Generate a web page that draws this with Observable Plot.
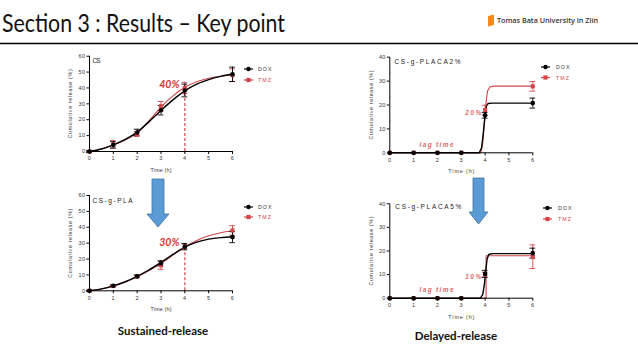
<!DOCTYPE html>
<html><head><meta charset="utf-8">
<script src="https://cdn.jsdelivr.net/npm/d3@7"></script>
<script src="https://cdn.jsdelivr.net/npm/@observablehq/plot@0.6"></script>
<style>
html,body{margin:0;padding:0;background:#fff}
body{width:638px;height:359px;position:relative;overflow:hidden;font-family:"Liberation Sans",Arial,sans-serif}
.abs{position:absolute}
.cap{position:absolute;font-family:Lato,"Open Sans",sans-serif;font-weight:700;font-size:11.5px;color:#111;white-space:nowrap;transform:translate(-50%,-50%)}
</style></head>
<body>
<svg class="abs" style="left:0;top:0" width="638" height="46">
  <text x="2" y="32" font-family="Lato, 'Open Sans', sans-serif" font-weight="400" font-size="25" fill="#111" textLength="283" lengthAdjust="spacingAndGlyphs">Section 3 : Results – Key point</text>
  <line x1="0" x2="638" y1="43.5" y2="43.5" stroke="#000" stroke-width="1.5"/>
  <path d="M488,16 L494,14.5 L494,25 L488,26.5 Z" fill="#f28a1e"/>
  <text x="497" y="22.5" font-family="'Open Sans', sans-serif" font-size="7" fill="#333" font-weight="600" textLength="101" lengthAdjust="spacingAndGlyphs">Tomas Bata University in Zlín</text>
</svg>
<svg class="abs" style="left:0;top:0;overflow:visible" width="638" height="359" id="arrows">
  <path d="M152,179 L164,179 L164,214 L169,214 L158,227 L147,214 L152,214 Z" fill="#5b9bd5" stroke="#41719c" stroke-width="0.8"/>
  <path d="M473,178 L484,178 L484,212 L488,212 L478.5,224 L469,212 L473,212 Z" fill="#5b9bd5" stroke="#41719c" stroke-width="0.8"/>
</svg>
<div class="cap" style="left:163px;top:330px">Sustained-release</div>
<div class="cap" style="left:456px;top:335px">Delayed-release</div>
<script>
// ---------- data ----------
const seriesNames = ["DOX", "TMZ"];
const xTicks = [0, 1, 2, 3, 4, 5, 6];
const yTicks60 = [0, 10, 20, 30, 40, 50, 60];
const yTicks40 = [0, 10, 20, 30, 40];
const yLabel = "Cumulative release (%)";
const xLabel = "Time (h)";
const obsT = [0, 1, 2, 3, 4, 6];

// CS
const csDox = [0, 4.2, 12, 26, 38.4, 48.6];
const csDoxErr = [0.6, 2, 2, 3, 4, 4.5];
const csTmz = [0, 4.5, 11, 28.5, 40, 48];
const csTmzErr = [0.6, 2.5, 1.5, 3, 3.5, 4];
const csFitT = [0, 0.5, 1, 1.5, 2, 2.5, 3, 3.5, 4, 4.5, 5, 5.5, 6];
const csDoxFit = [0, 1.6, 4.2, 7.6, 12.2, 18.8, 25.8, 32.5, 38.2, 42.4, 45.3, 47.3, 48.6];
const csTmzFit = [0, 1.6, 4.2, 7.3, 11.6, 19.4, 28, 35, 40.4, 43.9, 46.1, 47.4, 48.2];

// CS-g-PLA
const plaDox = [0, 3.2, 9.1, 17.3, 27.8, 33.8];
const plaDoxErr = [0.4, 0.6, 0.8, 1.6, 2, 3.5];
const plaTmz = [0, 3, 9, 16, 28, 38];
const plaTmzErr = [0.4, 0.6, 0.8, 2.5, 1.5, 3];
const plaFitT = [0, 0.5, 1, 1.5, 2, 2.5, 3, 3.5, 4, 4.5, 5, 5.5, 6];
const plaDoxFit = [0, 1.2, 3.1, 5.7, 9.1, 13.2, 17.9, 22.9, 27.5, 30.6, 32.5, 33.5, 34];
const plaTmzFit = [0, 1.1, 3, 5.5, 8.8, 12.7, 17.2, 22.5, 27.6, 31.6, 34.6, 36.6, 38];

// CS-g-PLACA2%
const ca2Dox = [0, 0, 0, 0, 15.7, 20.8];
const ca2DoxErr = [0, 0, 0, 0, 1.2, 2.1];
const ca2Tmz = [0, 0, 0, 0, 17.9, 27.8];
const ca2TmzErr = [0, 0, 0, 0, 2, 2];
const ca2DoxFitT = [0, 3.75, 3.85, 3.92, 4, 4.05, 4.12, 4.3, 6];
const ca2DoxFit = [0, 0, 2, 8, 15.8, 19.5, 20.6, 20.8, 20.8];
const ca2TmzFitT = [0, 3.82, 3.9, 3.97, 4.03, 4.1, 4.2, 4.35, 6];
const ca2TmzFit = [0, 0, 4, 13, 20.5, 25.8, 27.5, 27.9, 27.9];

// CS-g-PLACA5%
const ca5Dox = [0, 0, 0, 0, 10.3, 19.1];
const ca5DoxErr = [0, 0, 0, 0, 1.5, 2.1];
const ca5Tmz = [0, 0, 0, 0, 10, 17.6];
const ca5TmzErr = [0, 0, 0, 0, 1, 5];
const ca5DoxFitT = [0, 3.8, 3.9, 3.97, 4.03, 4.08, 4.15, 4.3, 6];
const ca5DoxFit = [0, 0, 1.5, 6, 12, 16.5, 18.5, 18.9, 18.9];
const ca5TmzFitT = [0, 4.04, 4.04, 6];
const ca5TmzFit = [0, 0, 18, 18];

// annotations
const annCS = [{t: 3.35, v: 42, label: "40%"}];
const annPLA = [{t: 3.35, v: 30.3, label: "30%"}];
const annCA2 = [{t: 3.5, v: 16.6, label: "20%"}, {t: 1.96, v: 3.2, label: "lag time"}];
const annCA5 = [{t: 3.5, v: 8.9, label: "10%"}, {t: 1.96, v: 3.7, label: "lag time"}];

// ---------- styles ----------
const RED = "#d0464b";
const RED_TXT = "#d9343a";
const RED_LIGHT = "#e06a6a";

function rows(ts, vs, es) { return ts.map((t, i) => ({t, v: vs[i], e: es ? es[i] : 0})); }

function makePanel(p) {
  const dox = rows(obsT, p.dox, p.doxErr);
  const tmz = rows(obsT, p.tmz, p.tmzErr);
  const doxFit = rows(p.doxFitT, p.doxFit);
  const tmzFit = rows(p.tmzFitT, p.tmzFit);
  const errMarks = (arr, color, w) => {
    const a = arr.filter(d => d.e > 0);
    return [
      Plot.ruleX(a, {x: "t", y1: d => d.v - d.e, y2: d => d.v + d.e, stroke: color, strokeWidth: w}),
      Plot.ruleY(a, {y: d => d.v + d.e, x1: d => d.t - 0.12, x2: d => d.t + 0.12, stroke: color, strokeWidth: w}),
      Plot.ruleY(a, {y: d => d.v - d.e, x1: d => d.t - 0.12, x2: d => d.t + 0.12, stroke: color, strokeWidth: w})
    ];
  };
  const big = p.annots.filter(a => a.label.endsWith("%") && p.bigPct);
  const small = p.annots.filter(a => !(a.label.endsWith("%") && p.bigPct));
  const marks = [
    Plot.axisX({ticks: xTicks, tickFormat: d => String(d), tickSize: 3, tickPadding: 2, label: null, fontSize: 5.5, stroke: "#000", fill: "#333"}),
    Plot.axisY({ticks: p.yTicks, tickFormat: d => String(d), tickSize: 2.5, tickPadding: 1.5, label: null, fontSize: 5.5, stroke: "#000", fill: "#333"}),
    Plot.text([yLabel], {frameAnchor: "left", textAnchor: "middle", lineAnchor: "middle", rotate: -90, dx: -19, fontSize: 5.3, fill: "#333"}),
    Plot.text([xLabel], {frameAnchor: "bottom", textAnchor: "middle", lineAnchor: "middle", dy: 18.7, fontSize: 5.3, fill: "#333"}),
    Plot.text([p.title], {frameAnchor: "top-left", textAnchor: "start", lineAnchor: "middle", dx: p.titleDx, dy: p.titleDy, fontSize: 6.5, fill: "#222"}),
    p.dash ? Plot.ruleX([{t: 4, v: p.dash}], {x: "t", y1: 0, y2: "v", stroke: RED_LIGHT, strokeWidth: 1.5, strokeDasharray: "3,2"}) : null,
    Plot.line(tmzFit, {x: "t", y: "v", stroke: RED, strokeWidth: 1.1, curve: p.curve}),
    Plot.line(doxFit, {x: "t", y: "v", stroke: "#000", strokeWidth: 1.4, curve: p.curve}),
    ...errMarks(tmz, RED, 0.9),
    ...errMarks(dox, "#000", 0.9),
    Plot.dot(tmz, {x: "t", y: "v", symbol: "square", r: 2.3, fill: RED, stroke: "none"}),
    Plot.dot(dox, {x: "t", y: "v", r: 2.3, fill: "#000", stroke: "none"}),
    Plot.ruleY([0], {stroke: "#000", strokeWidth: 1}),
    Plot.ruleX([0], {stroke: "#000", strokeWidth: 1}),
    Plot.text(big, {x: "t", y: "v", text: "label", fontSize: 10.5, fontWeight: "bold", fontStyle: "italic", fill: RED_TXT, fontFamily: "Lato, 'Open Sans', sans-serif"}),
    Plot.text(small, {x: "t", y: "v", text: "label", fontSize: 6.5, fontWeight: "bold", fontStyle: "italic", fill: RED_LIGHT})
  ].filter(Boolean);
  const svg = Plot.plot({
    width: p.width, height: p.height,
    marginLeft: p.ml, marginRight: p.mr, marginTop: p.mt, marginBottom: p.mb,
    x: {domain: [0, 6]}, y: {domain: [0, p.yMax]},
    style: {fontFamily: "'Liberation Sans', Arial, sans-serif", background: "transparent", overflow: "visible", color: "#000"},
    marks
  });
  svg.style.position = "absolute";
  svg.style.left = p.left + "px";
  svg.style.top = p.top + "px";
  // text widths as in the GraphPad original (wide letter spacing)
  const lengths = {[yLabel]: 69, [xLabel]: p.xLabLen, [p.title]: p.titleLen, "lag time": 34};
  svg.querySelectorAll("text").forEach(t => {
    const s = t.textContent;
    if (lengths[s]) {
      t.setAttribute("textLength", lengths[s]);
      t.setAttribute("lengthAdjust", "spacing");
    } else if (/^\d+%$/.test(s) && !p.bigPct) {
      t.setAttribute("textLength", 16);
      t.setAttribute("lengthAdjust", "spacing");
    } else if (!/%$/.test(s)) {
      t.style.letterSpacing = "0.4px";
    }
  });
  document.body.appendChild(svg);
  // legend
  const lx = p.legX, ly = p.legY, g = p.legGap;
  const ns = "http://www.w3.org/2000/svg";
  const leg = document.createElementNS(ns, "svg");
  leg.setAttribute("width", 40); leg.setAttribute("height", g + 10);
  leg.style.cssText = `position:absolute;left:${lx}px;top:${ly - 5}px;overflow:visible`;
  leg.innerHTML = `
    <line x1="0" x2="9" y1="5" y2="5" stroke="#000" stroke-width="1.2"/>
    <circle cx="4.5" cy="5" r="2.2" fill="#000"/>
    <text x="${p.legTx}" y="5" dominant-baseline="central" font-size="5.3" fill="#333" style="letter-spacing:1px">${seriesNames[0]}</text>
    <line x1="0" x2="9" y1="${5 + g}" y2="${5 + g}" stroke="${RED}" stroke-width="1.2"/>
    <rect x="2.4" y="${2.9 + g}" width="4.2" height="4.2" fill="${RED}"/>
    <text x="${p.legTx}" y="${5 + g}" dominant-baseline="central" font-size="5.3" fill="${RED}" style="letter-spacing:1px">${seriesNames[1]}</text>`;
  document.body.appendChild(leg);
}

makePanel({title: "CS", titleLen: 8, xLabLen: 21, left: 40, top: 45, width: 240, height: 135, ml: 49, mr: 48, mt: 10.7, mb: 29,
  yMax: 60, yTicks: yTicks60, dox: csDox, doxErr: csDoxErr, tmz: csTmz, tmzErr: csTmzErr,
  doxFitT: csFitT, doxFit: csDoxFit, tmzFitT: csFitT, tmzFit: csTmzFit, curve: "monotone-x",
  annots: annCS, bigPct: true, dash: 40, titleDx: 3, titleDy: 4.5,
  legX: 244, legY: 69, legGap: 11, legTx: 14});

makePanel({title: "CS-g-PLA", titleLen: 40, xLabLen: 21, left: 40, top: 185, width: 240, height: 135, ml: 49, mr: 48, mt: 10, mb: 29.7,
  yMax: 60, yTicks: yTicks60, dox: plaDox, doxErr: plaDoxErr, tmz: plaTmz, tmzErr: plaTmzErr,
  doxFitT: plaFitT, doxFit: plaDoxFit, tmzFitT: plaFitT, tmzFit: plaTmzFit, curve: "monotone-x",
  annots: annPLA, bigPct: true, dash: 28, titleDx: 3, titleDy: 5,
  legX: 244, legY: 207, legGap: 10, legTx: 14});

makePanel({title: "CS-g-PLACA2%", titleLen: 66, xLabLen: 26, left: 340, top: 45, width: 250, height: 135, ml: 49.3, mr: 57.7, mt: 11.7, mb: 27.7,
  yMax: 40, yTicks: yTicks40, dox: ca2Dox, doxErr: ca2DoxErr, tmz: ca2Tmz, tmzErr: ca2TmzErr,
  doxFitT: ca2DoxFitT, doxFit: ca2DoxFit, tmzFitT: ca2TmzFitT, tmzFit: ca2TmzFit, curve: "linear",
  annots: annCA2, bigPct: false, dash: null, titleDx: 4.7, titleDy: 5,
  legX: 540.5, legY: 66.7, legGap: 10.5, legTx: 15});

makePanel({title: "CS-g-PLACA5%", titleLen: 66, xLabLen: 26, left: 340, top: 190, width: 250, height: 135, ml: 49.3, mr: 57.7, mt: 13.3, mb: 27.3,
  yMax: 40, yTicks: yTicks40, dox: ca5Dox, doxErr: ca5DoxErr, tmz: ca5Tmz, tmzErr: ca5TmzErr,
  doxFitT: ca5DoxFitT, doxFit: ca5DoxFit, tmzFitT: ca5TmzFitT, tmzFit: ca5TmzFit, curve: "linear",
  annots: annCA5, bigPct: false, dash: null, titleDx: 5.5, titleDy: 3,
  legX: 543, legY: 208, legGap: 11, legTx: 15});
</script>
</body></html>
